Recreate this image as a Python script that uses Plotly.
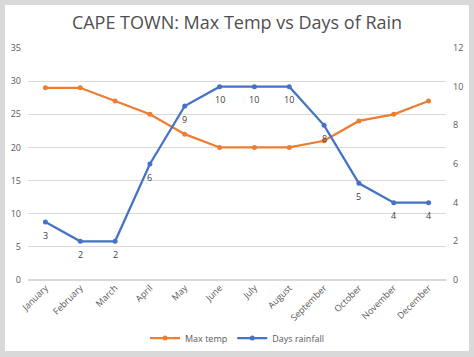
import plotly.graph_objects as go

months = ["January", "February", "March", "April", "May", "June", "July",
          "August", "September", "October", "November", "December"]
max_temp = [29, 29, 27, 25, 22, 20, 20, 20, 21, 24, 25, 27]
days_rain = [3, 2, 2, 6, 9, 10, 10, 10, 8, 5, 4, 4]
left_ticks = [0, 5, 10, 15, 20, 25, 30, 35]
right_ticks = [0, 2, 4, 6, 8, 10, 12]

ORANGE = "#ED7D31"
BLUE = "#4472C4"
GRAY = "#595959"
FONT = "Open Sans, Liberation Sans, sans-serif"

fig = go.Figure()
fig.add_trace(go.Scatter(
    x=months, y=max_temp, name="Max temp", mode="lines+markers",
    line=dict(color=ORANGE, width=2.25), marker=dict(size=5, color=ORANGE),
    yaxis="y"))
fig.add_trace(go.Scatter(
    x=months, y=days_rain, name="Days rainfall", mode="lines+markers",
    line=dict(color=BLUE, width=2.25), marker=dict(size=5, color=BLUE),
    yaxis="y2"))

annotations = [dict(x=m, y=v, xref="x", yref="y2", text=str(v), showarrow=False,
                    yshift=-13, font=dict(size=9, color="#404040", family=FONT))
               for m, v in zip(months, days_rain)]

W, H = 474, 357
L, R, T, B = 28, 28, 48, 77
pw, ph = W - L - R, H - T - B

def px_to_paper_x(px):
    return (px - L) / pw

def px_to_paper_y(py):
    return (H - B - py) / ph

fig.update_layout(
    width=W, height=H,
    margin=dict(l=L, r=R, t=T, b=B, autoexpand=False),
    paper_bgcolor="#d9d9d9",
    plot_bgcolor="white",
    font=dict(family=FONT, color=GRAY, size=9),
    title=dict(text="CAPE TOWN: Max Temp vs Days of Rain", x=0.5, xanchor="center",
               y=(H - 23) / H, yanchor="middle",
               font=dict(size=18, color="#4f4f4f", family=FONT)),
    xaxis=dict(type="category", tickangle=-45, showgrid=False, showline=False,
               ticks="", tickfont=dict(size=9, color=GRAY), range=[-0.5, 11.5],
               automargin=False),
    yaxis=dict(range=[0, 35], tickvals=left_ticks, showgrid=True, gridcolor="#d9d9d9",
               gridwidth=1, zeroline=True, zerolinecolor="#d9d9d9", showline=False,
               ticks="", tickfont=dict(size=9, color=GRAY), automargin=False,
               ticklabelstandoff=6),
    yaxis2=dict(range=[0, 12], tickvals=right_ticks, overlaying="y", side="right",
                showgrid=False, zeroline=False, showline=False, ticks="",
                tickfont=dict(size=9, color=GRAY), automargin=False,
                ticklabelstandoff=6),
    showlegend=True,
    legend=dict(orientation="h", x=0.5, xanchor="center",
                yref="container", y=(H - 338) / H,
                yanchor="middle", font=dict(size=9, color=GRAY),
                bgcolor="rgba(0,0,0,0)", itemwidth=30),
    annotations=annotations,
    shapes=[dict(type="rect", xref="paper", yref="paper", layer="below",
                 x0=px_to_paper_x(5), x1=px_to_paper_x(469),
                 y0=px_to_paper_y(351), y1=px_to_paper_y(5),
                 fillcolor="white", line=dict(width=0))],
)

fig.write_html("out.html", config={"displayModeBar": False},
               post_script="document.body.style.margin='0';document.body.style.overflow='hidden';")
